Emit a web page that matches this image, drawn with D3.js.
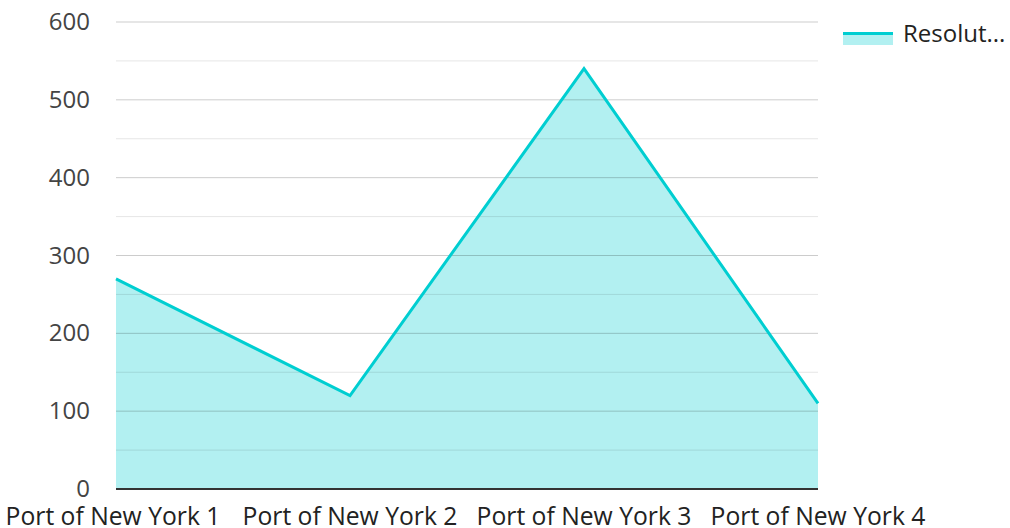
<!DOCTYPE html>
<html>
<head>
<meta charset="utf-8">
<script src="https://cdn.jsdelivr.net/npm/d3@7"></script>
<style>
  body { margin: 0; background: #fff; }
  text { font-family: "Open Sans", "Noto Sans", sans-serif; }
</style>
</head>
<body>
<script>
var w = 1010;
var h = 528;

var categories = ["Port of New York 1", "Port of New York 2", "Port of New York 3", "Port of New York 4"];
var values = [270, 120, 540, 110];
var seriesName = "Resolut...";
var majorTicks = [0, 100, 200, 300, 400, 500, 600];
var minorTicks = [50, 150, 250, 350, 450, 550];

var plotLeft = 116, plotRight = 818, plotTop = 22, plotBottom = 489;
var color = "#00CED1";

var svg = d3.select("body")
    .append("svg")
    .attr("width", w)
    .attr("height", h);

var x = d3.scalePoint()
    .domain(categories)
    .range([plotLeft, plotRight]);

var y = d3.scaleLinear()
    .domain([0, 600])
    .range([plotBottom, plotTop]);

// area first, gridlines drawn over it
var area = d3.area()
    .x(function(d, i){ return x(categories[i]); })
    .y0(y(0))
    .y1(function(d){ return y(d); });

var line = d3.line()
    .x(function(d, i){ return x(categories[i]); })
    .y(function(d){ return y(d); });

svg.append("path")
    .datum(values)
    .attr("d", area)
    .attr("fill", color)
    .attr("fill-opacity", 0.3);

svg.selectAll("line.minor")
    .data(minorTicks)
    .enter()
    .append("line")
    .attr("class", "minor")
    .attr("x1", plotLeft).attr("x2", plotRight)
    .attr("y1", function(d){ return y(d); })
    .attr("y2", function(d){ return y(d); })
    .attr("stroke", "rgba(0,0,0,0.1)")
    .attr("stroke-width", 1);

svg.selectAll("line.major")
    .data(majorTicks.filter(function(d){ return d > 0; }))
    .enter()
    .append("line")
    .attr("class", "major")
    .attr("x1", plotLeft).attr("x2", plotRight)
    .attr("y1", function(d){ return y(d); })
    .attr("y2", function(d){ return y(d); })
    .attr("stroke", "rgba(0,0,0,0.2)")
    .attr("stroke-width", 1);

svg.append("path")
    .datum(values)
    .attr("d", line)
    .attr("fill", "none")
    .attr("stroke", color)
    .attr("stroke-width", 3)
    .attr("stroke-linejoin", "miter");

// baseline
svg.append("line")
    .attr("x1", plotLeft).attr("x2", plotRight)
    .attr("y1", y(0)).attr("y2", y(0))
    .attr("stroke", "#333")
    .attr("stroke-width", 2);

// y labels
svg.selectAll("text.ylab")
    .data(majorTicks)
    .enter()
    .append("text")
    .attr("class", "ylab")
    .attr("x", 90)
    .attr("y", function(d){ return y(d) + 8; })
    .attr("text-anchor", "end")
    .attr("font-size", 24)
    .attr("fill", "#444")
    .text(function(d){ return d; });

// x labels
svg.selectAll("text.xlab")
    .data(categories)
    .enter()
    .append("text")
    .attr("class", "xlab")
    .attr("x", function(d, i){ return i == 0 ? 113 : x(d); })
    .attr("y", 525)
    .attr("text-anchor", "middle")
    .attr("font-size", 24.7)
    .attr("fill", "#222")
    .text(function(d){ return d; });

// legend
var lg = svg.append("g").attr("transform", "translate(843,32)");
lg.append("rect")
    .attr("x", 0).attr("y", 0)
    .attr("width", 50).attr("height", 13)
    .attr("fill", color)
    .attr("fill-opacity", 0.3);
lg.append("line")
    .attr("x1", 0).attr("x2", 50)
    .attr("y1", 1.5).attr("y2", 1.5)
    .attr("stroke", color)
    .attr("stroke-width", 3);
lg.append("text")
    .attr("x", 60)
    .attr("y", 10)
    .attr("font-size", 24)
    .attr("fill", "#222")
    .text(seriesName);
</script>
</body>
</html>
